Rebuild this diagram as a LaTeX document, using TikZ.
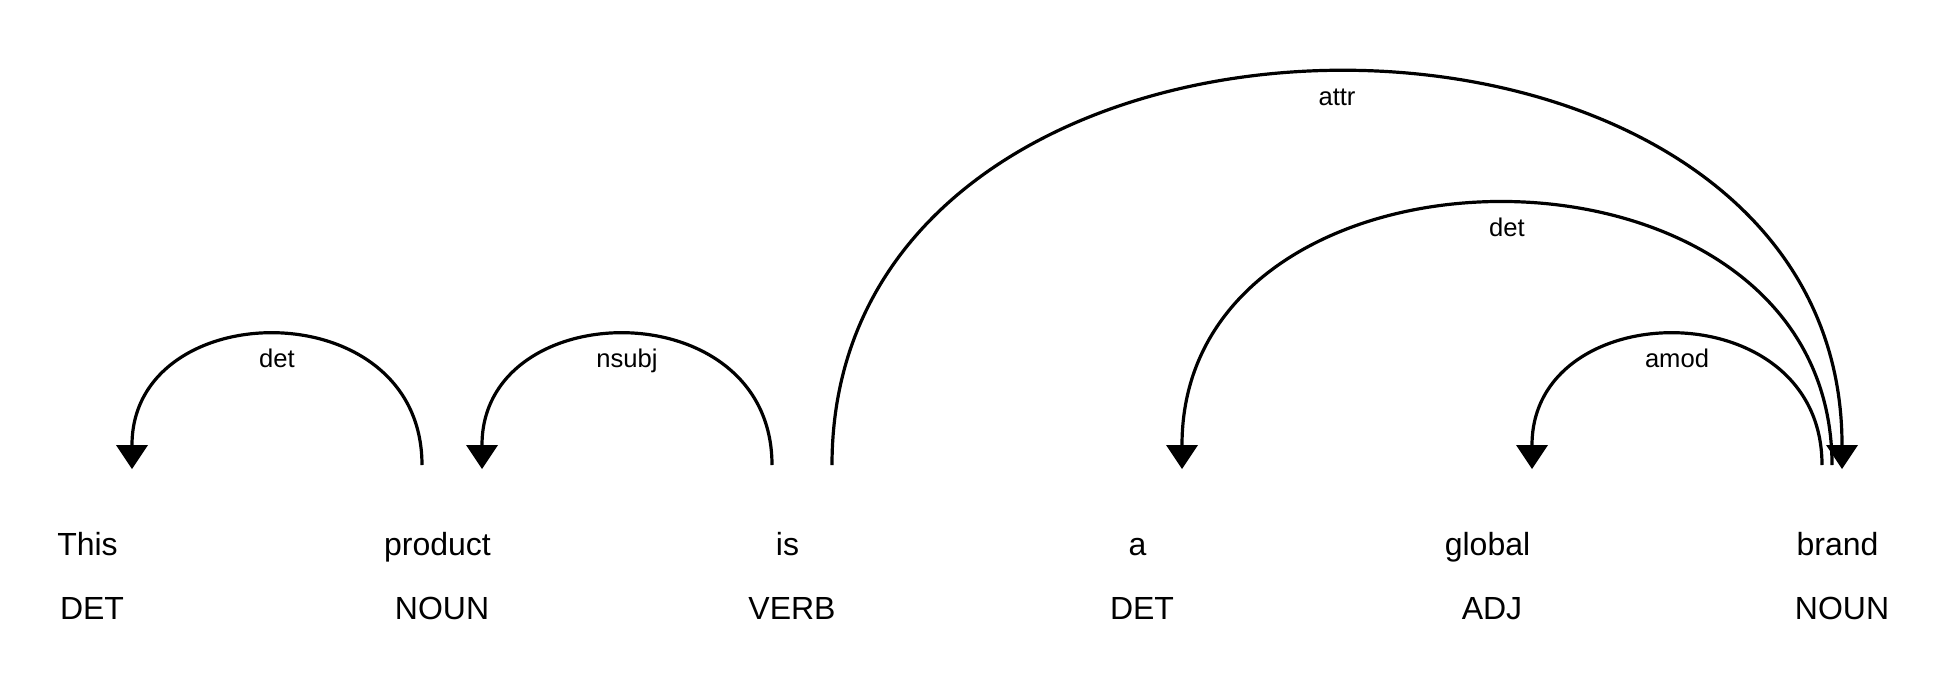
\documentclass[tikz,border=0pt]{standalone}
\usepackage{fontspec}
\setmainfont{Liberation Sans}
\usetikzlibrary{arrows.meta,calc,positioning}
\tikzset{
  word/.style={anchor=base, inner sep=0pt, xshift=-4.5pt, font=\fontsize{32}{38}\selectfont},
  tag/.style={anchor=base, inner sep=0pt, font=\fontsize{32}{38}\selectfont},
  arc/.style={draw, line width=3.2pt},
  toleft/.style={arc, {Triangle[length=24pt, width=32pt, line width=0pt]}-},
  toright/.style={arc, -{Triangle[length=24pt, width=32pt, line width=0pt]}},
  lbl/.style={pos=0.5, anchor=base, yshift=-32pt, inner sep=0pt, font=\fontsize{25.6}{30}\selectfont}
}

\begin{document}
\begin{tikzpicture}[x=1pt, y=-1pt]

\path[fill=white] (0,0) rectangle (1958,680);
\useasboundingbox (0,0) rectangle (1958,680);

\foreach \w/\t/\n [count=\i from 0] in {This/DET/this, product/NOUN/product, is/VERB/is, a/DET/a, global/ADJ/global, brand/NOUN/brand} {
  \node[word] (\n) at (92+350*\i,555) {\w};
  \node[tag] (\n-tag) at (92+350*\i,619) {\t};
}

\coordinate (this-in) at ($(this-tag.base)+(40,-150)$);
\coordinate (product-out) at ($(product-tag.base)+(-20,-154)$);
\coordinate (product-in) at ($(product-tag.base)+(40,-150)$);
\coordinate (is-out) at ($(is-tag.base)+(-20,-154)$);
\coordinate (is-attr) at ($(is-tag.base)+(40,-154)$);
\coordinate (a-in) at ($(a-tag.base)+(40,-150)$);
\coordinate (global-in) at ($(global-tag.base)+(40,-150)$);
\coordinate (brand-in) at ($(brand-tag.base)+(0,-150)$);
\coordinate (brand-det) at ($(brand-tag.base)+(-10,-154)$);
\coordinate (brand-amod) at ($(brand-tag.base)+(-20,-154)$);

\draw[toleft] (this-in) .. controls +(0,-175) and +(0,-175) .. (product-out) node[lbl] {det};
\draw[toleft] (product-in) .. controls +(0,-175) and +(0,-175) .. (is-out) node[lbl] {nsubj};
\draw[toright] (is-attr) .. controls +(0,-525) and +(0,-525) .. (brand-in) node[lbl] {attr};
\draw[toleft] (a-in) .. controls +(0,-350) and +(0,-350) .. (brand-det) node[lbl] {det};
\draw[toleft] (global-in) .. controls +(0,-175) and +(0,-175) .. (brand-amod) node[lbl] {amod};

\end{tikzpicture}
\end{document}
